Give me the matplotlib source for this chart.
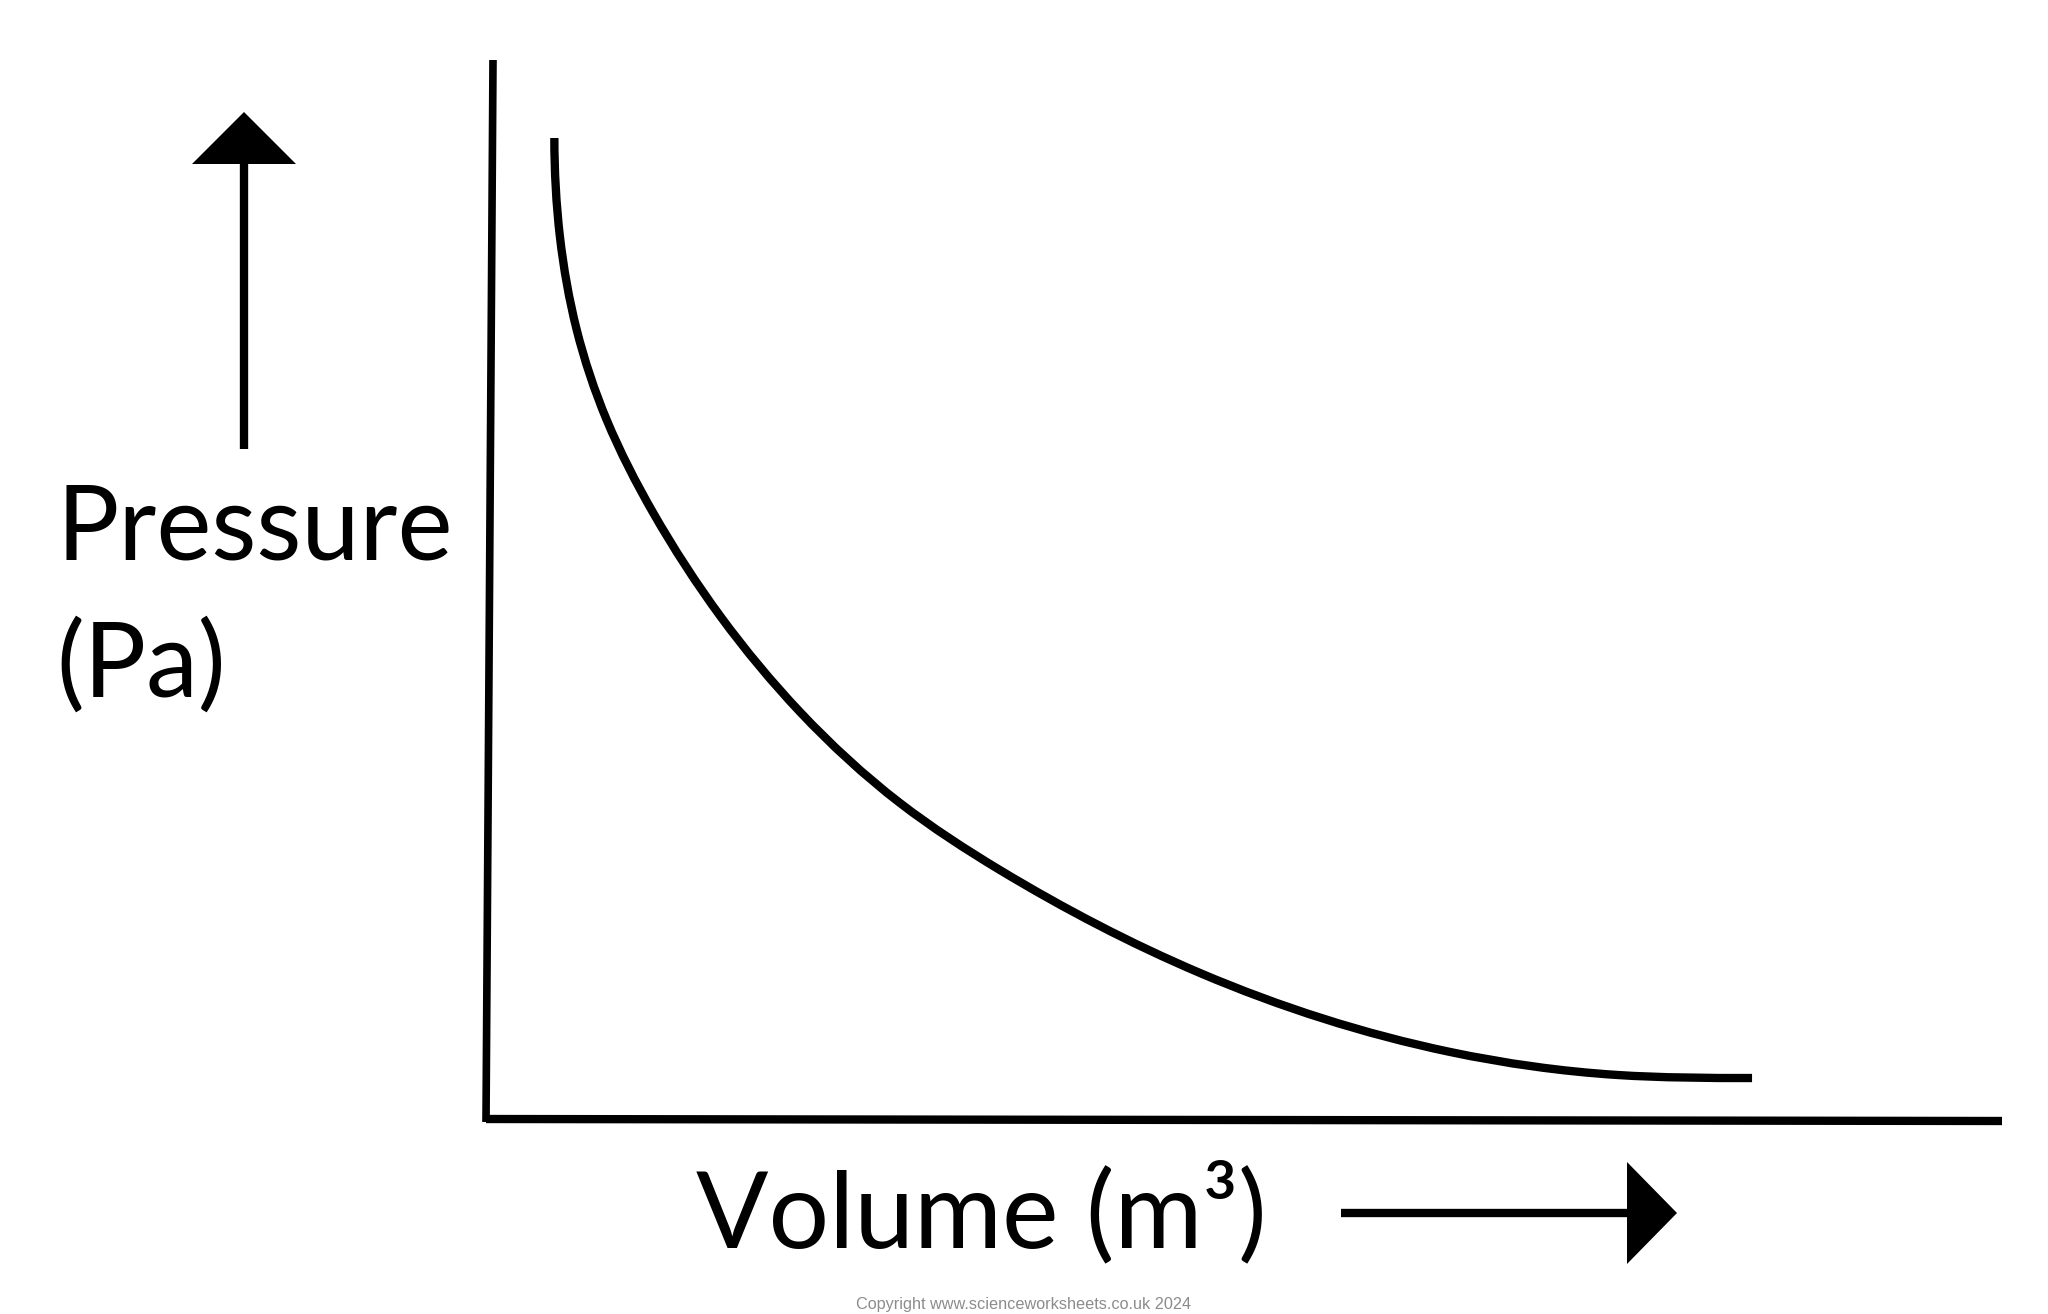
import numpy as np
import matplotlib
matplotlib.use("Agg")
import matplotlib.pyplot as plt
from matplotlib.patches import Polygon, PathPatch
from matplotlib.path import Path

# ---- data (arbitrary units) ----
volume = [0.432, 0.469, 0.580, 0.778, 1.086, 1.533, 2.056, 2.716, 3.377,
          4.699, 6.352, 7.455, 8.348]
pressure = [9.264, 8.330, 7.453, 6.604, 5.726, 4.745, 3.849, 2.991, 2.358,
            1.387, 0.642, 0.425, 0.396]
y_label_lines = ["Pressure", "(Pa)"]
x_label = "Volume (m³)"
copyright_text = "Copyright www.scienceworksheets.co.uk 2024"

W, H = 2048, 1314
fig = plt.figure(figsize=(W / 100, H / 100), dpi=100)
fig.patch.set_facecolor("white")

# overlay axes in pixel coordinates for annotations
ov = fig.add_axes([0, 0, 1, 1])
ov.set_xlim(0, W)
ov.set_ylim(H, 0)
ov.axis("off")

# main plotting axes
left, right, top, bottom = 489, 2002, 60, 1120
ax = fig.add_axes([left / W, (H - bottom) / H, (right - left) / W, (bottom - top) / H])
ax.set_xlim(0, 10)
ax.set_ylim(0, 10)
ax.set_facecolor("none")
ax.axis("off")

# axis lines (slightly hand-drawn slant as in the sketch)
ov.plot([493, 486], [60, 1122], color="black", lw=5.5, solid_capstyle="butt")
ov.plot([486, 2002], [1119, 1121], color="black", lw=6, solid_capstyle="butt")

# smooth curve through the read points: clamped cubic spline drawn as Bezier path
scale = np.array([(right - left) / 10.0, (bottom - top) / 10.0])
pts = np.column_stack([volume, pressure]) * scale
h = np.sqrt(((np.diff(pts, axis=0)) ** 2).sum(axis=1))
n = len(pts)
D = np.zeros_like(pts)
D[0] = [0.0, -1.0]
D[-1] = [1.0, 0.0]
m = n - 2
A = np.zeros((m, m))
rhs = np.zeros((m, 2))
for k in range(m):
    i = k + 1
    A[k, k] = 2 * (1 / h[i - 1] + 1 / h[i])
    if k > 0:
        A[k, k - 1] = 1 / h[i - 1]
    if k < m - 1:
        A[k, k + 1] = 1 / h[i]
    rhs[k] = 3 * ((pts[i] - pts[i - 1]) / h[i - 1] ** 2 + (pts[i + 1] - pts[i]) / h[i] ** 2)
rhs[0] -= D[0] / h[0]
rhs[-1] -= D[-1] / h[-1]
D[1:-1] = np.linalg.solve(A, rhs)
verts = [pts[0]]
codes = [Path.MOVETO]
for i in range(n - 1):
    verts += [pts[i] + D[i] * h[i] / 3, pts[i + 1] - D[i + 1] * h[i] / 3, pts[i + 1]]
    codes += [Path.CURVE4] * 3
verts = np.array(verts) / scale
ax.add_patch(PathPatch(Path(verts, codes), facecolor="none", edgecolor="black",
                       lw=6, capstyle="butt", joinstyle="round"))

# up arrow (next to pressure label)
ov.plot([244, 244], [449, 160], color="black", lw=6, solid_capstyle="butt")
ov.add_patch(Polygon([[192, 164], [296, 164], [244, 112]], closed=True,
                     color="black", lw=0))
# right arrow (next to volume label)
ov.plot([1341, 1630], [1213, 1213], color="black", lw=6, solid_capstyle="butt")
ov.add_patch(Polygon([[1627, 1162], [1627, 1264], [1677, 1213]], closed=True,
                     color="black", lw=0))

font = "Lato"
ov.text(56, 559, y_label_lines[0], fontsize=75, family=font, ha="left",
        va="baseline", color="black")
ov.text(56, 697, y_label_lines[1], fontsize=75, family=font, ha="left",
        va="baseline", color="black")
ov.text(696, 1247, x_label, fontsize=77, family=font, ha="left",
        va="baseline", color="black")
ov.text(1024, 1309, copyright_text, fontsize=11.7, family="Liberation Sans",
        ha="center", va="baseline", color="#8c8c8c")

fig.savefig("out.png", dpi=100, facecolor="white")
